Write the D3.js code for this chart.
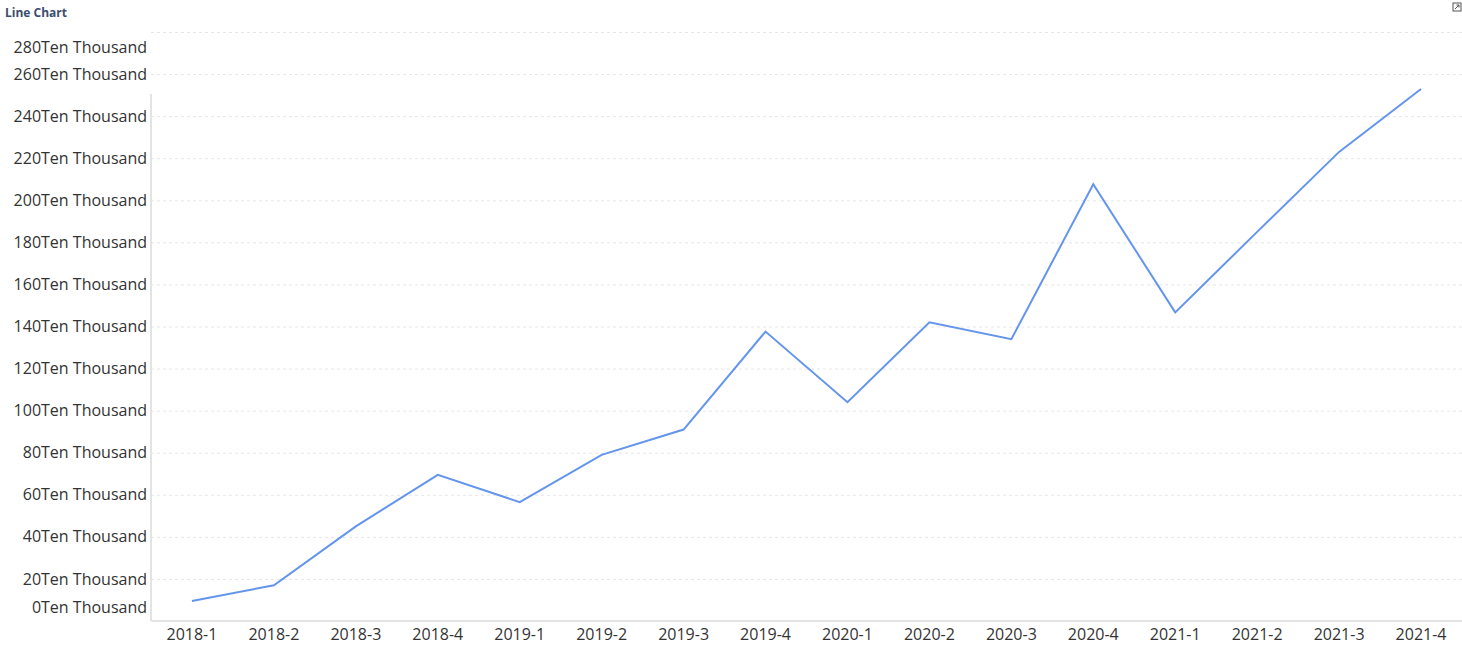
<!DOCTYPE html>
<html><head><meta charset="utf-8">
<script src="https://cdn.jsdelivr.net/npm/d3@7"></script>
<style>body{margin:0;background:#fff;font-family:"Open Sans","Noto Sans",sans-serif;}</style>
</head><body><svg id="c" width="1462" height="646"></svg>
<script>
const categories = ["2018-1","2018-2","2018-3","2018-4","2019-1","2019-2","2019-3","2019-4","2020-1","2020-2","2020-3","2020-4","2021-1","2021-2","2021-3","2021-4"];
const values = [9.5,17,45,69.5,56.5,79,91,137.6,104,142,134,207.6,146.7,185,223,252.9];
const yTicks = [0,20,40,60,80,100,120,140,160,180,200,220,240,260,280];
const unit = "Ten Thousand";

const svg = d3.select("#c");
const L=151,R=1462,T=32,B=621;
const x = d3.scalePoint().domain(categories).range([L,R]).padding(0.5);
const y = d3.scaleLinear().domain([0,280]).range([B,T]);

svg.append("text").attr("x",5).attr("y",17).attr("font-size",12).attr("font-weight","bold")
  .attr("fill","#3c4e6e").text("Line Chart");
const ic = svg.append("g").attr("transform","translate(1453,3)");
ic.append("rect").attr("width",8).attr("height",8).attr("fill","none").attr("stroke","#555");
ic.append("path").attr("d","M2,6L6,2M3.5,2H6V4.5").attr("stroke","#555").attr("fill","none");

svg.append("g").selectAll("line").data(yTicks.slice(1)).join("line")
  .attr("x1",L).attr("x2",R).attr("y1",d=>y(d)+0.5).attr("y2",d=>y(d)+0.5)
  .attr("stroke","#e6e6e6").attr("stroke-dasharray","3,3");

svg.append("line").attr("x1",L).attr("x2",L).attr("y1",T+62).attr("y2",B).attr("stroke","#e3e3e3").attr("stroke-width",2);
svg.append("line").attr("x1",L).attr("x2",R).attr("y1",B).attr("y2",B).attr("stroke","#e3e3e3").attr("stroke-width",2);

svg.append("g").selectAll("text").data(yTicks).join("text")
  .attr("x",147).attr("y",d=>{let p=y(d); if(d===0)p-=14; if(d===280)p+=15; return p;})
  .attr("dy","0.35em").attr("text-anchor","end").attr("font-size",16).attr("fill","#333")
  .text(d=>d+unit);

svg.append("g").selectAll("text").data(categories).join("text")
  .attr("x",d=>x(d)).attr("y",640).attr("text-anchor","middle").attr("font-size",16).attr("fill","#333").text(d=>d);

svg.append("path").datum(values).attr("fill","none").attr("stroke","#6495ed").attr("stroke-width",2)
  .attr("d",d3.line().x((d,i)=>x(categories[i])).y(d=>y(d)));
</script></body></html>
